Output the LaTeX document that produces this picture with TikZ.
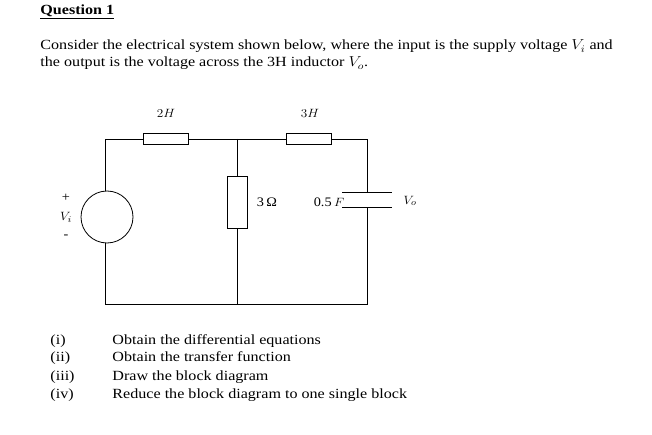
\documentclass[tikz,border=0pt]{standalone}
\usepackage{fontspec}
\setmainfont{Liberation Serif}
\begin{document}
\begin{tikzpicture}[x=1pt,y=-1pt,line width=0.8pt,
  txt/.style={inner sep=0pt,anchor=base west,xscale=1.15,font=\fontsize{14}{16}\selectfont},
  lbl/.style={inner sep=0pt,xscale=1.1,font=\fontsize{13}{15}\selectfont},
  comp/.style={draw,fill=white,line width=0.8pt}]
\useasboundingbox (0,0) rectangle (652,435);
% texts
\node[txt,font=\fontsize{14}{16}\selectfont\bfseries] (q) at (40,15) {\underline{Question 1}};
\node[txt] (p1) at (40,50) {Consider the electrical system shown below, where the input is the supply voltage $V_i$ and};
\node[txt] (p2) at (40,67) {the output is the voltage across the 3H inductor $V_o$.};
\foreach \r/\y/\t in {i/344/Obtain the differential equations, ii/361/Obtain the transfer function, iii/380/Draw the block diagram, iv/398/Reduce the block diagram to one single block}{
  \node[txt] (n\r) at (50,\y) {(\r)};
  \node[txt] (t\r) at (112,\y) {\t};
}
% circuit coordinates
\coordinate (tl) at (105,139); \coordinate (tm) at (237,139); \coordinate (tr) at (367,139);
\coordinate (bl) at (105,304); \coordinate (bm) at (237,304); \coordinate (br) at (367,304);
\draw (bl) -- (tl) -- (tr) -- (br) -- (bl);
\draw (tm) -- (bm);
\node[comp,minimum width=45pt,minimum height=11pt,inner sep=0pt] (L1) at (166,139) {};
\node[comp,minimum width=45pt,minimum height=11pt,inner sep=0pt] (L2) at (309,139) {};
\node[comp,minimum width=20pt,minimum height=52pt,inner sep=0pt] (R) at (237,202) {};
\node[comp,circle,minimum size=52pt,inner sep=0pt] (S) at (107,217) {};
% capacitor
\fill[white] (342,192) rectangle (392,207);
\draw (342,192) -- (392,192);
\draw (342,207) -- (392,207);
\node[lbl] (l1) at (166,113) {$2H$};
\node[lbl] (l2) at (310,113) {$3H$};
\node[lbl] (lr) at (267,202) {3\,Ω};
\node[lbl] (lc) at (329,202) {0.5\,$F$};
\node[lbl] (vo) at (410,201) {$V_o$};
\node[lbl] (pl) at (66,198) {+};
\node[lbl] (vi) at (66,217) {$V_i$};
\node[lbl] (mi) at (66,237) {-};
\end{tikzpicture}
\end{document}
